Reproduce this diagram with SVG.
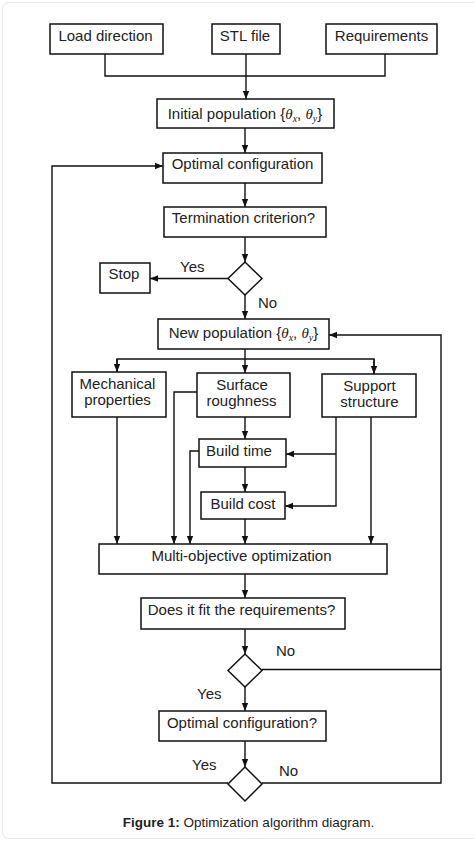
<svg xmlns="http://www.w3.org/2000/svg" width="474" height="843" viewBox="0 0 474 843">
<defs>
<marker id="ah" viewBox="0 0 8 8" refX="8" refY="4" markerWidth="8" markerHeight="8" markerUnits="userSpaceOnUse" orient="auto">
<path d="M0,0.8 L8,4 L0,7.2 Z" fill="#111"/>
</marker>
<style>
.box{fill:#fff;stroke:#111;stroke-width:1.5}
.dia{fill:#fff;stroke:#111;stroke-width:1.5}
.ln{fill:none;stroke:#111;stroke-width:1.4}
.ar{fill:none;stroke:#111;stroke-width:1.4;marker-end:url(#ah)}
text{font-family:"Liberation Sans",Arial,sans-serif;font-size:15px;fill:#222}
.c{text-anchor:middle}
.m{font-family:"Liberation Serif","DejaVu Serif",serif;font-style:italic}
.cap{font-size:13.5px}
</style>
</defs>
<rect x="0" y="0" width="474" height="843" fill="#fff"/>
<rect x="2.5" y="2.5" width="480" height="836" rx="6" fill="none" stroke="#e6e6e6" stroke-width="1"/>

<g id="connectors">
<polyline class="ln" points="105,54 105,76 385,76 385,54"/>
<line class="ar" x1="246" y1="54" x2="246" y2="99"/>
<line class="ar" x1="245" y1="128" x2="245" y2="153"/>
<line class="ar" x1="245" y1="183" x2="245" y2="207"/>
<line class="ar" x1="245" y1="237" x2="245" y2="262"/>
<line class="ar" x1="228" y1="278.5" x2="150" y2="278.5"/>
<line class="ar" x1="245" y1="295" x2="245" y2="319"/>
<line class="ar" x1="245" y1="349" x2="245" y2="373"/>
<polyline class="ln" points="117,372 117,359 374,359 374,374"/>
<line class="ar" x1="117" y1="359" x2="117" y2="372"/>
<line class="ar" x1="374" y1="359" x2="374" y2="374"/>
<line class="ar" x1="117" y1="417" x2="117" y2="544"/>
<polyline class="ar" points="197,392 174,392 174,544"/>
<line class="ar" x1="245" y1="417" x2="245" y2="439"/>
<polyline class="ar" points="199,451 190,451 190,544"/>
<line class="ar" x1="245" y1="467" x2="245" y2="492"/>
<line class="ar" x1="245" y1="519" x2="245" y2="544"/>
<polyline class="ar" points="336,417 336,506 285,506"/>
<line class="ar" x1="336" y1="454" x2="286" y2="454"/>
<line class="ar" x1="371" y1="417" x2="371" y2="544"/>
<line class="ar" x1="245" y1="574" x2="245" y2="598"/>
<line class="ar" x1="245" y1="629" x2="245" y2="654"/>
<line class="ln" x1="262" y1="669.5" x2="441" y2="669.5"/>
<polyline class="ar" points="262,783 441,783 441,335 329,335"/>
<line class="ar" x1="245" y1="687" x2="245" y2="711"/>
<line class="ar" x1="245" y1="741" x2="245" y2="767"/>
<polyline class="ar" points="228,783 52,783 52,166 163,166"/>
</g>

<g id="load"><rect class="box" x="50" y="24" width="113" height="30"/><text class="c" x="105.5" y="41">Load direction</text></g>
<g id="stl"><rect class="box" x="212" y="24" width="68" height="30"/><text class="c" x="245" y="41">STL file</text></g>
<g id="req"><rect class="box" x="326" y="24" width="111" height="30"/><text class="c" x="381.5" y="41">Requirements</text></g>
<g id="init"><rect class="box" x="157" y="99" width="177" height="29"/><text class="c" x="245" y="118.5">Initial population {<tspan class="m">θ</tspan><tspan class="m" font-size="10" dy="3">x</tspan><tspan dy="-3">, </tspan><tspan class="m">θ</tspan><tspan class="m" font-size="10" dy="3">y</tspan><tspan dy="-3">}</tspan></text></g>
<g id="opt"><rect class="box" x="163" y="153" width="159" height="30"/><text class="c" x="242.5" y="169">Optimal configuration</text></g>
<g id="term"><rect class="box" x="164" y="207" width="162" height="30"/><text class="c" x="243.5" y="223">Termination criterion?</text></g>
<g id="d1"><polygon class="dia" points="245,262 262,278.5 245,295 228,278.5"/><text x="180" y="272">Yes</text><text x="258" y="308">No</text></g>
<g id="stop"><rect class="box" x="100" y="263" width="50" height="30"/><text class="c" x="124" y="278.5">Stop</text></g>
<g id="newpop"><rect class="box" x="158" y="319" width="171" height="30"/><text class="c" x="243.5" y="337.5">New population {<tspan class="m">θ</tspan><tspan class="m" font-size="10" dy="3">x</tspan><tspan dy="-3">, </tspan><tspan class="m">θ</tspan><tspan class="m" font-size="10" dy="3">y</tspan><tspan dy="-3">}</tspan></text></g>
<g id="mech"><rect class="box" x="72" y="372" width="94" height="45"/><text class="c" x="117.5" y="389">Mechanical</text><text class="c" x="117.5" y="405">properties</text></g>
<g id="surf"><rect class="box" x="197" y="373" width="93" height="44"/><text class="c" x="242" y="390">Surface</text><text class="c" x="241.5" y="406">roughness</text></g>
<g id="supp"><rect class="box" x="322" y="374" width="94" height="43"/><text class="c" x="369.5" y="391">Support</text><text class="c" x="369.5" y="407">structure</text></g>
<g id="btime"><rect class="box" x="199" y="439" width="87" height="28"/><text class="c" x="239" y="456">Build time</text></g>
<g id="bcost"><rect class="box" x="201" y="492" width="84" height="27"/><text class="c" x="243" y="508.5">Build cost</text></g>
<g id="multi"><rect class="box" x="99" y="544" width="288" height="30"/><text class="c" x="241.5" y="561">Multi-objective optimization</text></g>
<g id="fit"><rect class="box" x="141" y="598" width="204" height="31"/><text class="c" x="241.5" y="615">Does it fit the requirements?</text></g>
<g id="d2"><polygon class="dia" points="245,654 262,670.5 245,687 228,670.5"/><text x="276" y="655.5">No</text><text x="197" y="699">Yes</text></g>
<g id="optq"><rect class="box" x="159" y="711" width="167" height="30"/><text class="c" x="242" y="728">Optimal configuration?</text></g>
<g id="d3"><polygon class="dia" points="245,767 262,784 245,801 228,784"/><text x="192" y="770">Yes</text><text x="279" y="775.5">No</text></g>
<g id="caption"><text class="cap c" x="248.5" y="827"><tspan font-weight="bold">Figure 1:</tspan> Optimization algorithm diagram.</text></g>
</svg>
